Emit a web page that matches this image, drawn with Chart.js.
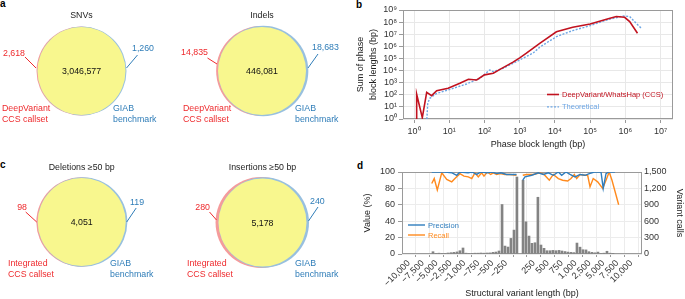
<!DOCTYPE html>
<html>
<head>
<meta charset="utf-8">
<title>CCS variant calling, phasing and SV benchmark</title>
<script src="https://cdn.jsdelivr.net/npm/chart.js@4.4.1/dist/chart.umd.min.js"></script>
<style>
  html, body { margin: 0; padding: 0; background: #fff; }
  body { position: relative; width: 685px; height: 299px; overflow: hidden;
         font-family: 'Liberation Sans', Arial, Helvetica, sans-serif; color: #222; }
  canvas { position: absolute; }
  .t { position: absolute; font-size: 8.8px; line-height: 11px; white-space: nowrap; }
  .panel { position: absolute; font-size: 10px; line-height: 10px; font-weight: bold; color: #000; }
</style>
</head>
<body>
<div class="panel" style="left:0px;top:-1px">a</div>
<div class="panel" style="left:356px;top:0px">b</div>
<div class="panel" style="left:0px;top:160px">c</div>
<div class="panel" style="left:357px;top:161px">d</div>
<canvas id="venn0" width="132" height="132"></canvas>
<canvas id="venn1" width="132" height="132"></canvas>
<canvas id="venn2" width="132" height="132"></canvas>
<canvas id="venn3" width="132" height="132"></canvas>
<canvas id="phase" width="345" height="150" style="left:340px;top:0px"></canvas>
<canvas id="sv" width="345" height="144" style="left:340px;top:155px"></canvas>
<script>
// ---- panels a and c: overlap counts ----
const vennTitles = ['SNVs', 'Indels', 'Deletions \u226550 bp', 'Insertions \u226550 bp'];
const vennShared = [3046577, 446081, 4051, 5178];
const vennCallsetOnly = [2618, 14835, 98, 280];
const vennBenchmarkOnly = [1260, 18683, 119, 240];
const vennCallsetNames = [['DeepVariant', 'CCS callset'], ['DeepVariant', 'CCS callset'],
                          ['Integrated', 'CCS callset'], ['Integrated', 'CCS callset']];
const vennBenchmarkName = ['GIAB', 'benchmark'];

// ---- panel b: phase block length distribution ----
const phaseTicks = [1, 10, 100, 1e3, 1e4, 1e5, 1e6, 1e7];
const sumTicks = [1, 10, 100, 1e3, 1e4, 1e5, 1e6, 1e7, 1e8, 1e9];
const ccsBlockLen = [1.19, 1.19, 1.72, 2.29, 3.16, 4.4, 9.3, 20, 35, 60, 100, 178, 275, 646, 1000, 1550, 3700, 1.1e4, 3.2e4, 1.0e5, 2.9e5, 5.5e5, 9.5e5, 1.32e6, 2.2e6];
const ccsBlockSum = [0.8, 110, 1.3, 160, 85, 220, 350, 890, 1900, 1660, 4400, 6000, 1.26e4, 5.0e4, 1.12e5, 2.7e5, 1.78e6, 1.58e7, 3.8e7, 7.1e7, 1.74e8, 2.9e8, 2.5e8, 1.1e8, 1.2e7];
const theoryBlockLen = [2.29, 2.45, 2.8, 4.4, 10.5, 31, 74, 141, 178, 340, 810, 2400, 3700, 1.1e4, 3.2e4, 1.0e5, 2.9e5, 8.5e5, 1.32e6, 2.0e6, 2.8e6];
const theoryBlockSum = [0.5, 20, 51, 130, 280, 780, 2300, 1.12e4, 8100, 1.55e4, 5.5e4, 2.8e5, 8.5e5, 6.3e6, 2.0e7, 5.1e7, 1.5e8, 3.2e8, 2.9e8, 8.1e7, 3.2e7];

// ---- panel d: SV length bins (x in tick-index units, 8 = 0 bp) ----
const svTickLabels = ['\u221210,000', '\u22127,500', '\u22125,000', '\u22122,500', '\u22121,000', '\u2212750', '\u2212500', '\u2212250', '',
                      '250', '500', '750', '1,000', '2,500', '5,000', '7,500', '10,000'];
const svBinPos = [1.74, 1.96, 2.17, 2.39, 2.60, 2.82, 3.04, 3.25, 3.47, 3.68, 3.90, 4.12, 4.33, 4.55, 4.76, 4.98, 5.19, 5.41, 5.63, 5.84,
                  6.06, 6.27, 6.49, 6.71, 6.92, 7.14, 7.35, 7.57, 7.78, 8.22, 8.43, 8.65, 8.86, 9.08, 9.29, 9.51, 9.73, 9.94, 10.16, 10.37,
                  10.59, 10.81, 11.02, 11.24, 11.45, 11.67, 11.88, 12.10, 12.32, 12.53, 12.75, 12.96, 13.18, 13.40, 13.61, 13.83, 14.04, 14.26, 14.48, 14.69];
const svCounts = [42, 8, 15, 8, 10, 18, 24, 30, 38, 60, 110, 15, 10, 12, 15, 15, 18, 15, 18, 20,
                  30, 36, 55, 905, 145, 127, 285, 437, 1408, 1348, 589, 328, 195, 206, 1038, 164, 104, 60, 60, 66,
                  60, 66, 55, 45, 35, 30, 25, 200, 125, 78, 75, 42, 30, 22, 35, 10, 15, 50, 15, 6];
const precisionPos = [1.65, 2.60, 3.11, 3.45, 3.68, 4.26, 4.55, 4.88, 5.19, 5.63, 5.99, 6.32, 6.63, 7.04, 7.52, 7.75, 8.0, 8.2, 8.36, 8.84,
                      9.32, 9.68, 10.04, 10.40, 10.76, 11.00, 11.31, 11.60, 11.96, 12.32, 12.68, 12.99, 13.35, 13.83, 13.99, 14.19, 14.40, 14.83];
const precisionVal = [100, 100, 99, 96, 100, 99, 100, 97, 100, 99, 100, 98, 99, 97, 97, 97, null, 90, 94, 96,
                      99, 97, 99, 96, 100, 96, 100, 97, 94, 97, 96, 98, 100, 100, 80, 98, 100, 100];
const recallPos = [1.65, 1.83, 2.05, 2.37, 2.73, 3.09, 3.32, 3.68, 3.97, 4.28, 4.53, 4.76, 5.00, 5.24, 5.41, 5.65, 5.89, 6.08, 6.32, 6.56,
                   6.92, 7.28, 7.75, 8.0, 8.2, 8.48, 8.96, 9.44, 9.73, 10.11, 10.40, 10.76, 11.07, 11.43, 11.67, 11.91, 12.08, 12.32, 12.63, 12.87,
                   13.04, 13.27, 13.59, 13.95, 14.19, 14.42, 14.62, 14.91, 15.10];
const recallVal = [86, 92, 78, 99, 91, 88, 92, 98, 95, 94, 92, 99, 94, 99, 95, 100, 97, 99, 97, 98,
                   97, 97, 96, null, 96, 97, 97, 99, 97, 90, 97, 92, 90, 89, 92, 97, 92, 97, 96, 96,
                   82, 92, 88, 80, 90, 100, 90, 72, 60];

const FONT = "'Liberation Sans', Arial, Helvetica, sans-serif";
const RED_TXT = '#ee2a2d';
const BLUE_TXT = '#2f7db8';

Chart.defaults.font.family = FONT;
Chart.defaults.font.size = 9;
Chart.defaults.color = '#333';
Chart.defaults.animation = false;
Chart.defaults.events = [];
Chart.defaults.plugins.legend.display = false;
Chart.defaults.plugins.tooltip.enabled = false;

// gray box round the plot area
const framePlugin = {
  id: 'frame',
  beforeDatasetsDraw(chart, args, opts) {
    const { ctx, chartArea: a } = chart;
    const x0 = Math.round(a.left) + 0.5, x1 = Math.round(a.right) - 0.5;
    const y0 = Math.round(a.top) + 0.5, y1 = Math.round(a.bottom) - 0.5;
    ctx.save();
    ctx.strokeStyle = opts.color || '#9a9a9a';
    ctx.lineWidth = 1;
    ctx.strokeRect(x0, y0, x1 - x0, y1 - y0);
    ctx.restore();
  }
};

// legend drawn inside the plot area
const innerLegend = {
  id: 'innerLegend',
  afterDatasetsDraw(chart, args, opts) {
    const { ctx, chartArea } = chart;
    ctx.save();
    ctx.font = opts.size + 'px ' + FONT;
    ctx.textBaseline = 'middle';
    opts.items.forEach((di, i) => {
      const ds = chart.data.datasets[di];
      const x = chartArea.left + opts.x;
      const y = chartArea.top + opts.y + i * opts.gap;
      ctx.strokeStyle = ds.borderColor;
      ctx.lineWidth = ds.borderWidth;
      ctx.setLineDash(ds.borderDash || []);
      ctx.beginPath();
      ctx.moveTo(x, y);
      ctx.lineTo(x + opts.w, y);
      ctx.stroke();
      ctx.setLineDash([]);
      ctx.fillStyle = ds.borderColor;
      ctx.fillText(ds.label, x + opts.w + 3, y + 0.5);
    });
    ctx.restore();
  }
};

// short leader lines from the circles to the counts
const leaderPlugin = {
  id: 'leaders',
  afterDatasetsDraw(chart, args, opts) {
    const { ctx } = chart;
    const cx = chart.scales.x.getPixelForValue(0);
    const cy = chart.scales.y.getPixelForValue(0);
    ctx.save();
    ctx.lineWidth = 1;
    opts.lines.forEach((l, i) => {
      ctx.strokeStyle = i === 0 ? RED_TXT : BLUE_TXT;
      ctx.beginPath();
      ctx.moveTo(cx + l[0], cy + l[1]);
      ctx.lineTo(cx + l[2], cy + l[3]);
      ctx.stroke();
    });
    ctx.restore();
  }
};

function placeText(str, x, y, anchor, color) {
  const el = document.createElement('div');
  el.className = 't';
  el.textContent = str;
  el.style.left = x + 'px';
  el.style.top = y + 'px';
  el.style.color = color;
  const tx = anchor === 'center' ? '-50%' : anchor === 'right' ? '-100%' : '0';
  el.style.transform = 'translate(' + tx + ', -50%)';
  document.body.appendChild(el);
}

// ---- Venn diagrams ----
const vennLayout = [
  { cx: 81.5, cy: 71, titleY: 15, left: [25, 53], right: [132, 48], leftName: [2, 108], rightName: [113, 108],
    leaders: [[-45.5, -3, -56.5, -14], [45, -3, 56, -16]] },
  { cx: 262, cy: 71, titleY: 15, left: [208, 52], right: [312, 47], leftName: [183, 108], rightName: [295, 108],
    leaders: [[-45, -7, -54.5, -13], [46, -3, 56, -17]] },
  { cx: 81.7, cy: 222, titleY: 167, left: [27, 207], right: [130, 202], leftName: [8, 263], rightName: [110, 263],
    leaders: [[-45, 0, -56, -10], [45, 0, 54.5, -14]] },
  { cx: 262.5, cy: 222.5, titleY: 167, left: [210, 207], right: [310, 201], leftName: [187, 263], rightName: [295, 263],
    leaders: [[-46, -2.5, -53, -10.5], [46, -1.5, 55.5, -15.5]] }
];
const vennRadius = 44;

vennLayout.forEach((v, i) => {
  const total = vennShared[i] + vennCallsetOnly[i] + vennBenchmarkOnly[i];
  // crescent widths follow the share of calls private to each set
  const tRed = Math.max(1, 60 * vennCallsetOnly[i] / total);
  const tBlue = Math.max(1, 60 * vennBenchmarkOnly[i] / total);
  const cv = document.getElementById('venn' + i);
  const left = Math.floor(v.cx - 66), top = Math.floor(v.cy - 66);
  cv.style.left = left + 'px';
  cv.style.top = top + 'px';
  new Chart(cv, {
    type: 'scatter',
    data: {
      datasets: [
        { label: 'Shared', data: [{ x: 0, y: 0 }], pointRadius: vennRadius, backgroundColor: '#f8f78e',
          pointBorderWidth: 0, clip: false },
        { label: 'GIAB benchmark', data: [{ x: tBlue / 2, y: 0 }], pointRadius: vennRadius + tBlue / 2,
          backgroundColor: '#98c0df', pointBorderWidth: 0, clip: false },
        { label: vennCallsetNames[i].join(' '), data: [{ x: -tRed / 2, y: 0 }], pointRadius: vennRadius + tRed / 2,
          backgroundColor: '#f59b9b', pointBorderWidth: 0, clip: false }
      ]
    },
    options: {
      responsive: false,
      devicePixelRatio: 1,
      layout: { padding: 0, autoPadding: false },
      scales: {
        x: { display: false, min: left - v.cx, max: left + 132 - v.cx },
        y: { display: false, min: v.cy - (top + 132), max: v.cy - top }
      },
      plugins: { leaders: { lines: v.leaders } }
    },
    plugins: [leaderPlugin]
  });

  placeText(vennTitles[i], v.cx, v.titleY, 'center', '#222');
  placeText(vennShared[i].toLocaleString('en-US'), v.cx, v.cy, 'center', '#111');
  placeText(vennCallsetOnly[i].toLocaleString('en-US'), v.left[0], v.left[1], 'right', RED_TXT);
  placeText(vennBenchmarkOnly[i].toLocaleString('en-US'), v.right[0], v.right[1], 'left', BLUE_TXT);
  vennCallsetNames[i].forEach((s, k) => placeText(s, v.leftName[0], v.leftName[1] + k * 11, 'left', RED_TXT));
  vennBenchmarkName.forEach((s, k) => placeText(s, v.rightName[0], v.rightName[1] + k * 11, 'left', BLUE_TXT));
});

// ---- panel b ----
const supDigits = '\u2070\u00b9\u00b2\u00b3\u2074\u2075\u2076\u2077\u2078\u2079';
const pow10Label = v => '10' + String(Math.round(Math.log10(v))).split('').map(d => supDigits[+d]).join('');

new Chart(document.getElementById('phase'), {
  type: 'scatter',
  data: {
    datasets: [
      { label: 'DeepVariant/WhatsHap (CCS)', data: ccsBlockLen.map((x, i) => ({ x, y: ccsBlockSum[i] })),
        showLine: true, borderColor: '#c1121f', borderWidth: 1.6, pointRadius: 0 },
      { label: 'Theoretical', data: theoryBlockLen.map((x, i) => ({ x, y: theoryBlockSum[i] })),
        showLine: true, borderColor: '#6ea6e4', borderWidth: 1.4, borderDash: [2, 1.5], pointRadius: 0 }
    ]
  },
  options: {
    responsive: false,
    devicePixelRatio: 1,
    layout: { padding: { left: 0, right: 12, top: 10, bottom: 0 } },
    scales: {
      x: {
        type: 'logarithmic', min: 0.487, max: 2.24e7,
        afterBuildTicks: s => { s.ticks = phaseTicks.map(value => ({ value })); },
        afterFit: s => { s.height = 31; },
        ticks: { callback: v => pow10Label(v), maxRotation: 0, autoSkip: false, padding: 3 },
        grid: { color: '#e8e8e8', tickColor: '#9a9a9a', tickLength: 4 },
        border: { display: false },
        title: { display: true, text: 'Phase block length (bp)', color: '#222', padding: { top: 0, bottom: 0 } }
      },
      y: {
        type: 'logarithmic', min: 1, max: 1e9,
        afterBuildTicks: s => { s.ticks = sumTicks.map(value => ({ value })); },
        afterFit: s => { s.width = 63; },
        ticks: { callback: v => pow10Label(v), autoSkip: false, padding: 2 },
        grid: { color: '#e8e8e8', tickColor: '#9a9a9a', tickLength: 4 },
        border: { display: false },
        title: { display: true, text: ['Sum of phase', 'block lengths (bp)'], color: '#222',
                 font: { lineHeight: 1.45 }, padding: { top: 13.5, bottom: 0 } }
      }
    },
    plugins: {
      frame: { color: '#9a9a9a' },
      innerLegend: { items: [0, 1], x: 144, y: 84.5, gap: 12.4, w: 12, size: 7.5 }
    }
  },
  plugins: [framePlugin, innerLegend]
});

// ---- panel d ----
new Chart(document.getElementById('sv'), {
  type: 'bar',
  data: {
    datasets: [
      { type: 'line', label: 'Precision', yAxisID: 'y', data: precisionPos.map((x, i) => ({ x, y: precisionVal[i] })),
        borderColor: '#2f7dbd', borderWidth: 1.4, pointRadius: 0, spanGaps: false },
      { type: 'line', label: 'Recall', yAxisID: 'y', data: recallPos.map((x, i) => ({ x, y: recallVal[i] })),
        borderColor: '#ff8a1d', borderWidth: 1.4, pointRadius: 0, spanGaps: false },
      { type: 'bar', label: 'Variant calls', yAxisID: 'y1', data: svBinPos.map((x, i) => ({ x, y: svCounts[i] })),
        backgroundColor: '#838383', barThickness: 2, grouped: false }
    ]
  },
  options: {
    responsive: false,
    devicePixelRatio: 1,
    layout: { padding: { left: 0, right: 0, top: 17, bottom: 0 } },
    scales: {
      x: {
        type: 'linear', min: -0.49, max: 16.78, offset: false,
        afterBuildTicks: s => { s.ticks = svTickLabels.map((_, value) => ({ value })); },
        afterFit: s => { s.height = 45; },
        ticks: { callback: v => svTickLabels[v], autoSkip: false, minRotation: 45, maxRotation: 45, padding: 1 },
        grid: { color: '#ececec', tickColor: '#9a9a9a', tickLength: 3 },
        border: { display: false },
        title: { display: true, text: 'Structural variant length (bp)', color: '#222', padding: { top: 0, bottom: 0 } }
      },
      y: {
        position: 'left', min: 0, max: 100,
        afterFit: s => { s.width = 62; },
        ticks: { stepSize: 10, callback: v => (v % 20 === 0 ? v : ''), padding: 3 },
        grid: { color: '#ececec', tickColor: '#9a9a9a', tickLength: 4 },
        border: { display: false },
        title: { display: true, text: 'Value (%)', color: '#222', padding: { top: 22.5, bottom: 0 } }
      },
      y1: {
        position: 'right', min: 0, max: 1500,
        afterFit: s => { s.width = 43; },
        ticks: { stepSize: 300, callback: v => v.toLocaleString('en-US'), padding: 2 },
        grid: { drawOnChartArea: false, drawTicks: false },
        border: { display: false },
        title: { display: true, text: 'Variant calls', color: '#222', padding: { top: 0, bottom: 0 } }
      }
    },
    plugins: {
      frame: { color: '#9a9a9a' },
      innerLegend: { items: [0, 1], x: 6, y: 53, gap: 10, w: 17, size: 7.5 }
    }
  },
  plugins: [framePlugin, innerLegend]
});
</script>
</body>
</html>
